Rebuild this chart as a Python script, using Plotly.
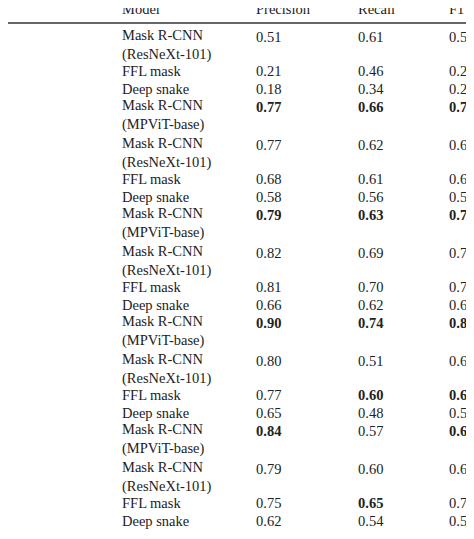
import plotly.graph_objects as go

areas = ["Non-built-up", "Rural", "Suburban", "Urban", "Average"]
models = ["Mask R-CNN<br>(ResNeXt-101)", "FFL mask", "Deep snake", "Mask R-CNN<br>(MPViT-base)"]
headers = ["Area", "Model", "Precision", "Recall", "F1"]

precision = [[0.51, 0.21, 0.18, 0.77], [0.77, 0.68, 0.58, 0.79], [0.82, 0.81, 0.66, 0.90],
             [0.80, 0.77, 0.65, 0.84], [0.79, 0.75, 0.62, 0.84]]
recall = [[0.61, 0.46, 0.34, 0.66], [0.62, 0.61, 0.56, 0.63], [0.69, 0.70, 0.62, 0.74],
          [0.51, 0.60, 0.48, 0.57], [0.60, 0.65, 0.54, 0.64]]
f1 = [[0.56, 0.29, 0.24, 0.71], [0.69, 0.64, 0.57, 0.70], [0.75, 0.75, 0.64, 0.81],
      [0.63, 0.67, 0.55, 0.68], [0.68, 0.70, 0.58, 0.73]]
# bold cells (best per area), as in the source table
bold_p = [[0, 0, 0, 1], [0, 0, 0, 1], [0, 0, 0, 1], [0, 0, 0, 1], [0, 0, 0, 1]]
bold_r = [[0, 0, 0, 1], [0, 0, 0, 1], [0, 0, 0, 1], [0, 1, 0, 0], [0, 1, 0, 0]]
bold_f = [[0, 0, 0, 1], [0, 0, 0, 1], [0, 0, 0, 1], [0, 1, 0, 1], [0, 0, 0, 1]]

col_x = [1, 122, 256, 358, 449]
group_h = 108
top = 38
sub_off = [0, 34, 52, 70]

fig = go.Figure()
font = dict(family="Liberation Serif, DejaVu Serif, serif", size=14.5, color="#222")

def txt(xs, ys, texts):
    fig.add_trace(go.Scatter(x=xs, y=ys, text=texts, mode="text",
                             textposition="middle right", textfont=font,
                             hoverinfo="skip", showlegend=False, cliponaxis=False))

txt(col_x, [10] * 5, headers)
txt([col_x[0]] * len(areas), [top + group_h * i for i in range(len(areas))], areas)

mx, my, mt = [], [], []
vx, vy, vt = [], [], []
for i in range(len(areas)):
    for j, m in enumerate(models):
        y = top + group_h * i + sub_off[j]
        two = "<br>" in m
        mx.append(col_x[1]); my.append(y + (8 if two else 0)); mt.append(m)
        for k, (vals, bold) in enumerate([(precision, bold_p), (recall, bold_r), (f1, bold_f)]):
            s = f"{vals[i][j]:.2f}"
            vx.append(col_x[2 + k]); vy.append(y)
            vt.append(f"<b>{s}</b>" if bold[i][j] else s)
txt(mx, my, mt)
txt(vx, vy, vt)

fig.add_shape(type="line", x0=-20, x1=500, y0=23, y1=23, line=dict(color="#333", width=1.6))

# page has an 8px body margin, so the plot covers reference pixels 8..474 / 8..539
fig.update_layout(
    width=466, height=531, margin=dict(l=0, r=0, t=0, b=0),
    plot_bgcolor="white", paper_bgcolor="white",
    xaxis=dict(range=[8, 474], visible=False, fixedrange=True),
    yaxis=dict(range=[539, 8], visible=False, fixedrange=True),
)
fig.write_html("out.html")
